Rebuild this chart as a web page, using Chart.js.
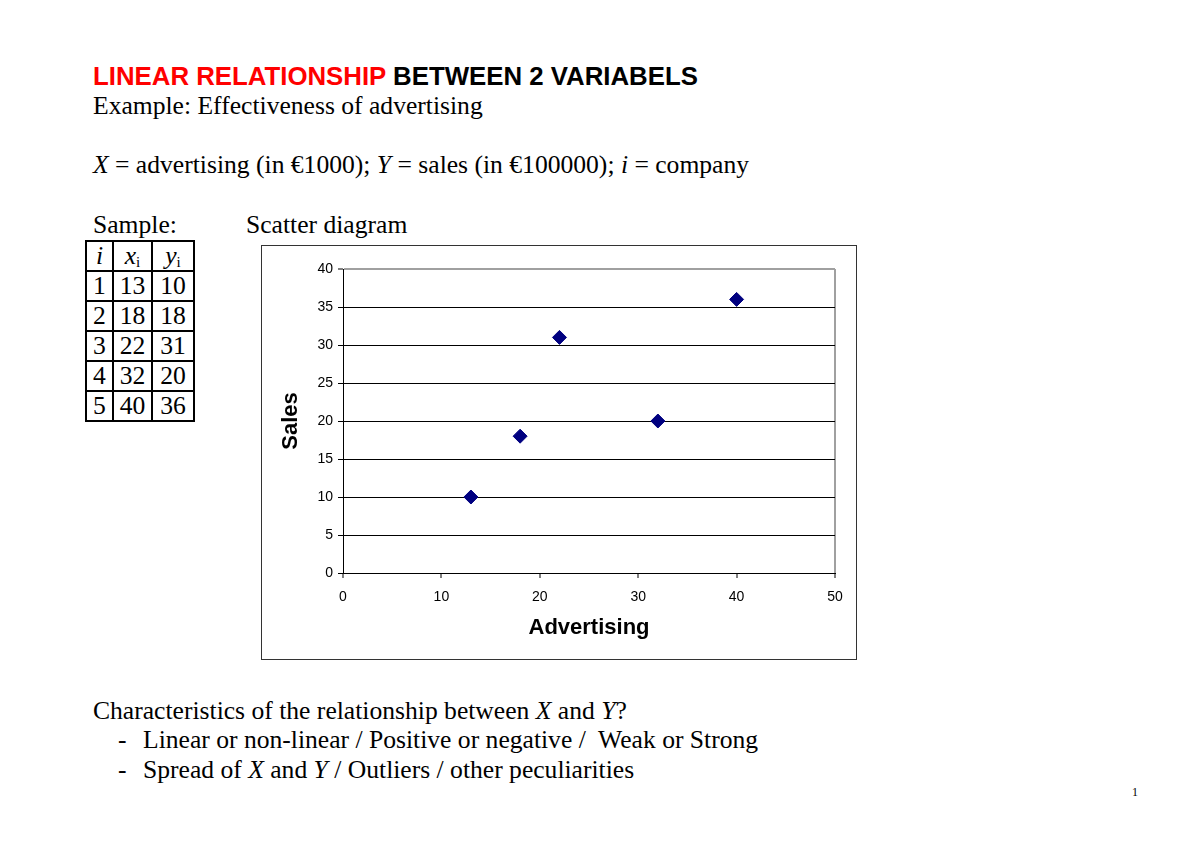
<!DOCTYPE html>
<html lang="en">
<head>
  <meta charset="UTF-8">
  <title>Linear relationship between 2 variables</title>
  <script src="https://cdn.jsdelivr.net/npm/chart.js"></script>
  <style>
    body { margin: 0; background: #fff; }
    #page { position: relative; width: 1200px; height: 849px; font-family: "Liberation Serif", serif; color: #000; }
    .t { position: absolute; white-space: nowrap; line-height: 1; font-size: 25.6px; }
    .title { font-family: "Liberation Sans", Arial, sans-serif; font-weight: bold; font-size: 25.8px; }
    .red { color: #ff0000; }
    #sample { position: absolute; left: 85px; top: 240px; border-collapse: collapse; font-size: 25.6px; }
    #sample td { border: 2px solid #000; height: 28px; padding: 0; text-align: center; line-height: 28px; }
    #sample sub { font-style: normal; font-size: 15px; line-height: 0; vertical-align: -3px; }
    #chartBox { position: absolute; left: 261px; top: 245px; width: 596px; height: 415px; border: 1px solid #333; box-sizing: border-box; }
    #pageNo { position: absolute; left: 1132px; top: 785px; font-size: 12px; font-family: "Liberation Serif", serif; }
  </style>
</head>
<body>
<div id="page">
  <div class="t title" style="left:93px; top:64px;"><span class="red">LINEAR RELATIONSHIP</span> BETWEEN 2 VARIABELS</div>
  <div class="t" style="left:93px; top:93px;">Example: Effectiveness of advertising</div>
  <div class="t" style="left:93px; top:152px;"><i>X</i> = advertising (in €1000); <i>Y</i> = sales (in €100000); <i>i</i> = company</div>
  <div class="t" style="left:93px; top:212px;">Sample:</div>
  <div class="t" style="left:246px; top:212px;">Scatter diagram</div>

  <table id="sample"></table>

  <div id="chartBox"><canvas id="scatter"></canvas></div>

  <div class="t" style="left:93px; top:698px;">Characteristics of the relationship between <i>X</i> and <i>Y</i>?</div>
  <div class="t" style="left:118px; top:727px;">-</div>
  <div class="t" style="left:143px; top:727px;">Linear or non-linear / Positive or negative /&nbsp; Weak or Strong</div>
  <div class="t" style="left:118px; top:757px;">-</div>
  <div class="t" style="left:143px; top:757px;">Spread of <i>X</i> and <i>Y</i> / Outliers / other peculiarities</div>
  <div id="pageNo">1</div>
</div>

<script>
  const companies = [1, 2, 3, 4, 5];
  const advertising = [13, 18, 22, 32, 40];
  const sales = [10, 18, 31, 20, 36];
  const xTickValues = [0, 10, 20, 30, 40, 50];
  const yTickValues = [0, 5, 10, 15, 20, 25, 30, 35, 40];

  // sample table
  const table = document.getElementById('sample');
  let rows = '<tr><td style="width:25px"><i>i</i></td><td style="width:37px"><i>x</i><sub>i</sub></td><td style="width:40px"><i>y</i><sub>i</sub></td></tr>';
  companies.forEach((c, k) => {
    rows += '<tr><td>' + c + '</td><td>' + advertising[k] + '</td><td>' + sales[k] + '</td></tr>';
  });
  table.innerHTML = rows;

  const sans = 'Liberation Sans, Arial, sans-serif';

  new Chart(document.getElementById('scatter'), {
    type: 'scatter',
    data: {
      datasets: [{
        label: 'Sales',
        data: advertising.map((x, k) => ({ x: x, y: sales[k] })),
        pointStyle: 'rectRot',
        pointRadius: 7,
        pointHoverRadius: 7,
        backgroundColor: '#000080',
        borderColor: '#000080',
        borderWidth: 1
      }]
    },
    options: {
      responsive: true,
      maintainAspectRatio: false,
      animation: false,
      layout: { padding: { top: 23, right: 21, bottom: 0, left: 0 } },
      plugins: { legend: { display: false }, tooltip: { enabled: false } },
      scales: {
        x: {
          type: 'linear',
          min: 0,
          max: 50,
          afterBuildTicks: s => { s.ticks = xTickValues.map(v => ({ value: v })); },
          afterFit: s => { s.height = 86; s.paddingLeft = 0; s.paddingRight = 0; },
          ticks: { color: '#000', padding: 11, font: { family: sans, size: 14 } },
          grid: {
            color: c => (c.tick && c.tick.value === 50) ? '#a0a0a0' : 'rgba(0,0,0,0)',
            lineWidth: 2,
            tickColor: '#000',
            tickWidth: 1,
            tickLength: 5
          },
          border: { color: '#000', width: 1 },
          title: { display: true, text: 'Advertising', color: '#000', padding: { top: 0, bottom: 18 }, font: { family: sans, size: 22, weight: 'bold' } }
        },
        y: {
          type: 'linear',
          min: 0,
          max: 40,
          afterBuildTicks: s => { s.ticks = yTickValues.map(v => ({ value: v })); },
          afterFit: s => { s.width = 81; s.paddingTop = 0; s.paddingBottom = 0; },
          ticks: { color: '#000', padding: 5, font: { family: sans, size: 14 } },
          grid: {
            color: c => (c.tick && c.tick.value === 40) ? '#a0a0a0' : '#000',
            lineWidth: c => (c.tick && c.tick.value === 40) ? 2 : 1,
            tickColor: '#000',
            tickWidth: 1,
            tickLength: 5
          },
          border: { color: '#000', width: 1 },
          title: { display: true, text: 'Sales', color: '#000', padding: { top: 16, bottom: 0 }, font: { family: sans, size: 22, weight: 'bold' } }
        }
      }
    }
  });
</script>
</body>
</html>
